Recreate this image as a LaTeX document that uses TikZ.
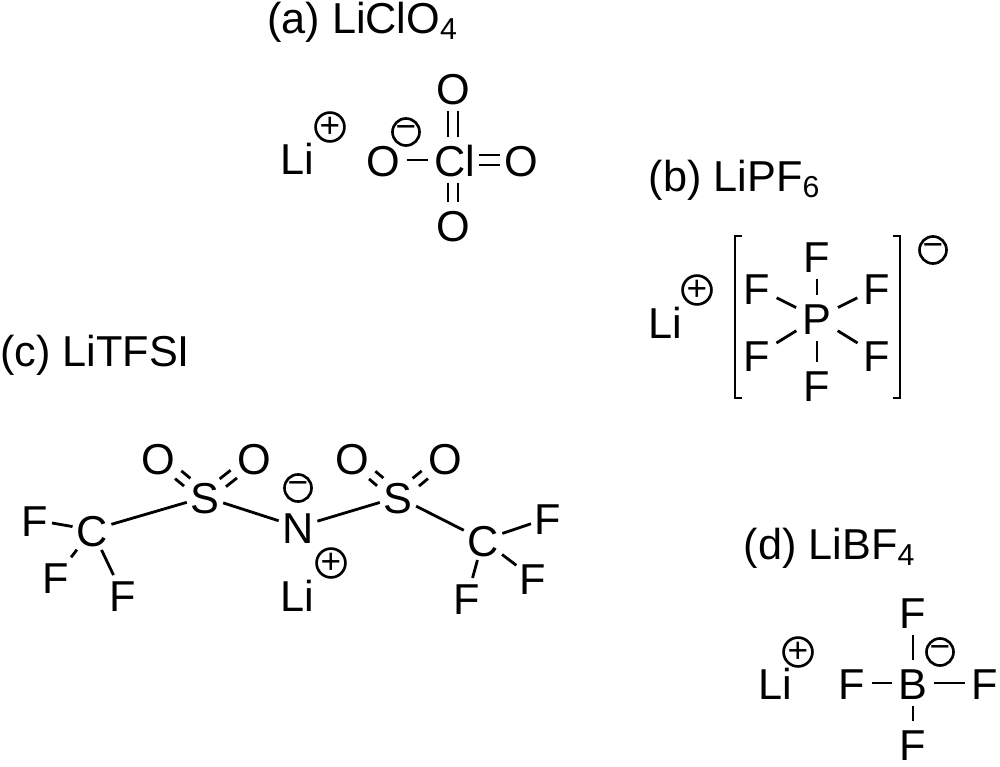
\documentclass[tikz,border=0pt]{standalone}
\usepackage{fontspec}
\setmainfont{Liberation Sans}
\begin{document}
\begin{tikzpicture}[x=0.01cm,y=-0.01cm,
  every node/.style={font=\fontsize{12.3}{14}\selectfont},
  atom/.style={inner sep=0.3pt,text height=1.75ex,text depth=0pt},
  bond/.style={line width=0.8pt,shorten <=0.6pt,shorten >=0.6pt},
  chg/.style={draw,circle,line width=0.75pt,minimum size=0.27cm,inner sep=0pt,font=\fontsize{10}{10}\selectfont}]
\useasboundingbox (0,0) rectangle (1000,767);
% (a)
\node (ta) at (363,22) {(a) LiClO\textsubscript{4}};
\node[atom] (aLi) at (297,158) {Li};
\node[chg] (aLc) at (330,127) {+};
\node[atom] (aO1) at (383,160) {O};
\node[chg] (aOc) at (406,132) {−};
\node[atom] (aCl) at (455,160) {Cl};
\node[atom] (aO2) at (521,160) {O};
\node[atom] (aO3) at (453,88) {O};
\node[atom] (aO4) at (453,225) {O};
\draw[bond,shorten <=1.5pt,shorten >=1.5pt] (aO1) -- (aCl);
\foreach \s in {-1,1}{
  \draw[bond,shorten <=1.5pt,shorten >=1.5pt,transform canvas={xshift=\s*1.4pt}] (aO3.south) -- (aO3.south|-aCl.north);
  \draw[bond,shorten <=1.5pt,shorten >=1.5pt,transform canvas={xshift=\s*1.4pt}] (aO4.north) -- (aO4.north|-aCl.south);
  \draw[bond,transform canvas={yshift=\s*1.4pt}] (aCl) -- (aO2);}
% (b)
\node (tb) at (735,180) {(b) LiPF\textsubscript{6}};
\node[atom] (bLi) at (665,322) {Li};
\node[chg] (bLc) at (697,290) {+};
\node[atom] (bP) at (817,318) {P};
\node[atom] (bF1) at (817,256) {F};
\node[atom] (bF2) at (757,288) {F};
\node[atom] (bF3) at (877,288) {F};
\node[atom] (bF4) at (757,355) {F};
\node[atom] (bF5) at (877,355) {F};
\node[atom] (bF6) at (817,385) {F};
\foreach \f in {bF1,bF2,bF3,bF4,bF5,bF6} \draw[bond,shorten <=1.5pt,shorten >=1.5pt] (bP) -- (\f);
\coordinate (bL1) at (742,236); \coordinate (bL2) at (735,236);
\coordinate (bL3) at (735,398); \coordinate (bL4) at (742,398);
\coordinate (bR1) at (893,236); \coordinate (bR2) at (900,236);
\coordinate (bR3) at (900,398); \coordinate (bR4) at (893,398);
\draw[line width=0.8pt] (bL1) -- (bL2) -- (bL3) -- (bL4);
\draw[line width=0.8pt] (bR1) -- (bR2) -- (bR3) -- (bR4);
\node[chg] (bc) at (933,250) {−};
% (c)
\node (tc) at (95,355) {(c) LiTFSI};
\node[atom] (cF1) at (35,520) {F};
\node[atom] (cC1) at (92,530) {C};
\node[atom] (cF2) at (56,577) {F};
\node[atom] (cF3) at (123,595) {F};
\node[atom] (cS1) at (205,497) {S};
\node[atom] (cO1) at (158,458) {O};
\node[atom] (cO2) at (254,458) {O};
\node[atom] (cN) at (298,527) {N};
\node[chg] (cNc) at (298,488) {−};
\node[atom] (cLi) at (297,595) {Li};
\node[chg] (cLc) at (331,563) {+};
\node[atom] (cS2) at (398,497) {S};
\node[atom] (cO3) at (352,458) {O};
\node[atom] (cO4) at (445,458) {O};
\node[atom] (cC2) at (483,540) {C};
\node[atom] (cF4) at (548,518) {F};
\node[atom] (cF5) at (533,578) {F};
\node[atom] (cF6) at (467,598) {F};
\draw[bond] (cC1) -- (cF1); \draw[bond] (cC1) -- (cF2); \draw[bond] (cC1) -- (cF3);
\draw[bond] (cC1) -- (cS1); \draw[bond] (cS1) -- (cN); \draw[bond] (cN) -- (cS2);
\draw[bond] (cS2) -- (cC2);
\draw[bond] (cC2) -- (cF4); \draw[bond] (cC2) -- (cF5); \draw[bond] (cC2) -- (cF6);
\foreach \s in {-1,1}{
  \draw[bond,transform canvas={shift={(\s*0.9pt,\s*1.1pt)}}] (cS1) -- (cO1);
  \draw[bond,transform canvas={shift={(\s*0.9pt,-\s*1.1pt)}}] (cS1) -- (cO2);
  \draw[bond,transform canvas={shift={(\s*0.9pt,\s*1.1pt)}}] (cS2) -- (cO3);
  \draw[bond,transform canvas={shift={(\s*0.9pt,-\s*1.1pt)}}] (cS2) -- (cO4);}
% (d)
\node (td) at (830,548) {(d) LiBF\textsubscript{4}};
\node[atom] (dLi) at (775,683) {Li};
\node[chg] (dLc) at (798,652) {+};
\node[atom] (dB) at (913,683) {B};
\node[atom] (dF1) at (852,683) {F};
\node[atom] (dF2) at (985,683) {F};
\node[atom] (dF3) at (913,612) {F};
\node[atom] (dF4) at (913,744) {F};
\node[chg] (dc) at (940,652) {−};
\foreach \f in {dF1,dF2,dF3,dF4} \draw[bond,shorten <=1.5pt,shorten >=1.5pt] (dB) -- (\f);
\end{tikzpicture}
\end{document}
